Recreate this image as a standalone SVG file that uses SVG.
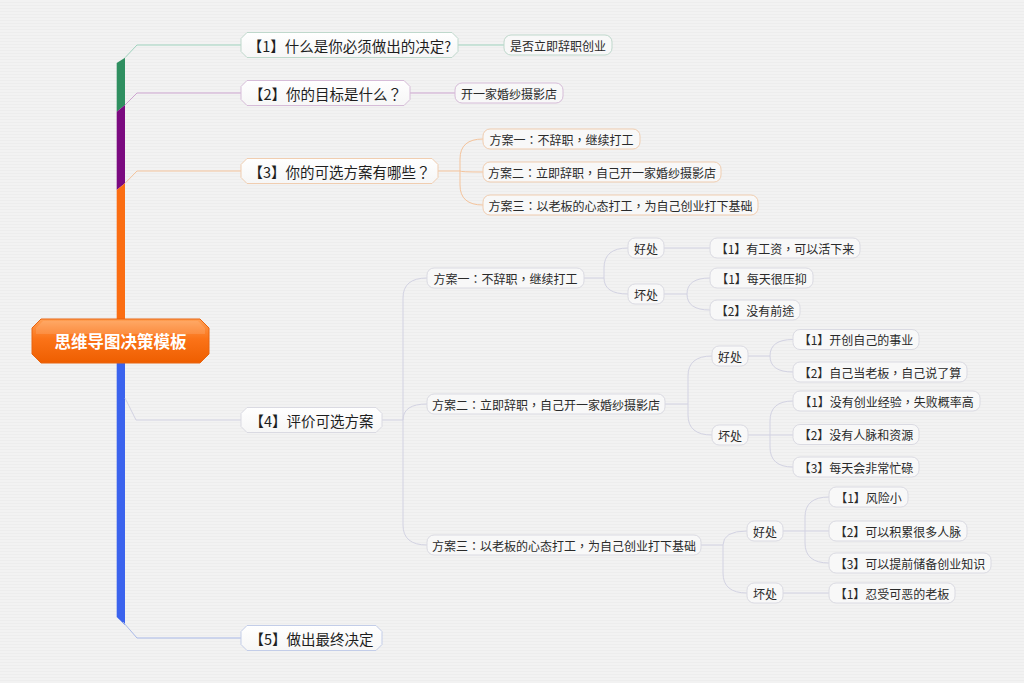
<svg xmlns="http://www.w3.org/2000/svg" width="1024" height="683" viewBox="0 0 1024 683">
<defs>
<pattern id="bg" width="8" height="3" patternUnits="userSpaceOnUse">
<rect width="8" height="3" fill="#f2f2f2"/>
<rect y="2" width="8" height="1" fill="#ededed"/>
</pattern>
<linearGradient id="rootg" x1="0" y1="0" x2="0" y2="1">
<stop offset="0" stop-color="#ffa055"/>
<stop offset="0.45" stop-color="#fb7318"/>
<stop offset="1" stop-color="#ee5e00"/>
</linearGradient>
<linearGradient id="maing" x1="0" y1="0" x2="0" y2="1">
<stop offset="0" stop-color="#ffffff"/>
<stop offset="1" stop-color="#f6f6f6"/>
</linearGradient>
</defs>
<style>
text{font-family:"Noto Sans CJK TC","Noto Sans CJK SC","Noto Sans",sans-serif;dominant-baseline:central;text-anchor:middle}
.main text{font-size:14.5px;fill:#1e1e1e}
.sub text{font-size:12px;fill:#2a2a2a}
.mbox{fill:url(#maing);stroke-width:1}
.sbox{fill:#f8f8f8;stroke-width:1}
.c path{fill:none;stroke-width:1}
.k1{stroke:#9fd3be}.k2{stroke:#cda5d0}.k3{stroke:#f4c39b}.k4{stroke:#d2d2e2}.k5{stroke:#a9b9e8}
.b1{stroke:#bfd8cc}.b2{stroke:#d6bcd8}.b3{stroke:#f0cdb0}.b4{stroke:#dadae2}.b5{stroke:#c3cde8}
</style>
<rect width="1024" height="683" fill="url(#bg)"/>

<g id="spine">
<polygon points="116.7,63 125,57.7 125,105 116.7,111.7" fill="#2f8f60"/>
<polygon points="116.7,111.7 125,105 125,183.3 116.7,190" fill="#7b0a80"/>
<polygon points="116.7,190 125,183.3 125,330 116.7,330" fill="#fb6d12"/>
<polygon points="116.7,355 125,355 125,625 116.7,617" fill="#3b63ee"/>
</g>

<g id="connectors" class="c">
<path class="k1" d="M125,57.7 L137,45 H241"/>
<path class="k2" d="M125,105 L137,93 H241"/>
<path class="k3" d="M125,183.3 L137,171 H241"/>
<path class="k4" d="M125,398 L136,420 H241"/>
<path class="k5" d="M123,622 L137,638 H241"/>
<path class="k1" d="M458,45 H504"/>
<path class="k2" d="M410,93 H455"/>
<path class="k3" d="M438,171 H460 M460,171 V159 Q460,139 483,139 M460,171 Q460,172 483,172 M460,171 V185 Q460,205 483,205"/>
<path class="k4" d="M382,420 H403 M403,420 V298 Q403,278 427,278 M403,420 Q403,404 427,404 M403,420 V525 Q403,545 427,545"/>
<path class="k4" d="M584,278 H604 M604,278 V268 Q604,248 628,248 M604,278 Q604,294 628,294"/>
<path class="k4" d="M664,248 H710"/>
<path class="k4" d="M664,294 H687 M687,294 Q687,278 710,278 M687,294 Q687,310 710,310"/>
<path class="k4" d="M665,404 H688 M688,404 V376 Q688,356 712,356 M688,404 V415 Q688,435 712,435"/>
<path class="k4" d="M748,356 H770 M770,356 Q770,339.5 793,339.5 M770,356 Q770,372 793,372"/>
<path class="k4" d="M748,435 H770 M770,435 V421 Q770,401 793,401 M770,435 H793 M770,435 V447 Q770,467 793,467"/>
<path class="k4" d="M701,545 H723 M723,545 Q723,531 747,531 M723,545 V573 Q723,593 747,593"/>
<path class="k4" d="M783,531 H805 M805,531 V517 Q805,497 829,497 M805,531 H829 M805,531 V543 Q805,563 829,563"/>
<path class="k4" d="M783,593 H829"/>
</g>

<g id="root">
<path d="M41,319 H200 L209,328 V354 L200,363 H41 L32,354 V328 Z" fill="url(#rootg)" stroke="#e86410" stroke-width="1"/>
<path d="M43,321 H198 L205,328 V334 H36 V328 Z" fill="#ffffff" opacity="0.12"/>
<text x="120.5" y="341" style="font-size:16.5px;font-weight:bold;fill:#ffffff">思维导图决策模板</text>
</g>

<g id="n1" class="main"><path class="mbox b1" d="M247,32.5 H452 L458,38.5 V51.5 L452,57.5 H247 L241,51.5 V38.5 Z"/><text x="349.5" y="45">【1】什么是你必须做出的决定?</text></g>
<g id="n2" class="main"><path class="mbox b2" d="M247,80.5 H404 L410,86.5 V99.5 L404,105.5 H247 L241,99.5 V86.5 Z"/><text x="325.5" y="93">【2】你的目标是什么？</text></g>
<g id="n3" class="main"><path class="mbox b3" d="M247,158.5 H432 L438,164.5 V177.5 L432,183.5 H247 L241,177.5 V164.5 Z"/><text x="339.5" y="171">【3】你的可选方案有哪些？</text></g>
<g id="n4" class="main"><path class="mbox b4" d="M247,407.5 H376 L382,413.5 V426.5 L376,432.5 H247 L241,426.5 V413.5 Z"/><text x="311.5" y="420">【4】评价可选方案</text></g>
<g id="n5" class="main"><path class="mbox b5" d="M247,625.5 H376 L382,631.5 V644.5 L376,650.5 H247 L241,644.5 V631.5 Z"/><text x="311.5" y="638">【5】做出最终决定</text></g>

<g id="c1" class="sub"><rect class="sbox b1" x="504" y="35" width="108" height="20" rx="7"/><text x="558" y="45">是否立即辞职创业</text></g>
<g id="c2" class="sub"><rect class="sbox b2" x="455" y="83" width="108" height="20" rx="7"/><text x="509" y="93">开一家婚纱摄影店</text></g>

<g id="o1" class="sub"><rect class="sbox b3" x="483" y="129" width="157" height="20" rx="7"/><text x="561.5" y="139">方案一：不辞职，继续打工</text></g>
<g id="o2" class="sub"><rect class="sbox b3" x="483" y="162" width="238" height="20" rx="7"/><text x="602" y="172">方案二：立即辞职，自己开一家婚纱摄影店</text></g>
<g id="o3" class="sub"><rect class="sbox b3" x="483" y="195" width="275" height="20" rx="7"/><text x="620.5" y="205">方案三：以老板的心态打工，为自己创业打下基础</text></g>

<g id="e1" class="sub"><rect class="sbox b4" x="427" y="268" width="157" height="20" rx="7"/><text x="505.5" y="278">方案一：不辞职，继续打工</text></g>
<g id="e2" class="sub"><rect class="sbox b4" x="427" y="394" width="238" height="20" rx="7"/><text x="546" y="404">方案二：立即辞职，自己开一家婚纱摄影店</text></g>
<g id="e3" class="sub"><rect class="sbox b4" x="427" y="535" width="274" height="20" rx="7"/><text x="564" y="545">方案三：以老板的心态打工，为自己创业打下基础</text></g>

<g id="e1g" class="sub"><rect class="sbox b4" x="628" y="238" width="36" height="20" rx="7"/><text x="646" y="248">好处</text></g>
<g id="e1b" class="sub"><rect class="sbox b4" x="628" y="284" width="36" height="20" rx="7"/><text x="646" y="294">坏处</text></g>
<g id="e1g1" class="sub"><rect class="sbox b4" x="710" y="238" width="150" height="20" rx="7"/><text x="785" y="248">【1】有工资，可以活下来</text></g>
<g id="e1b1" class="sub"><rect class="sbox b4" x="710" y="268" width="103" height="20" rx="7"/><text x="761.5" y="278">【1】每天很压抑</text></g>
<g id="e1b2" class="sub"><rect class="sbox b4" x="710" y="300" width="90" height="20" rx="7"/><text x="755" y="310">【2】没有前途</text></g>

<g id="e2g" class="sub"><rect class="sbox b4" x="712" y="346" width="36" height="20" rx="7"/><text x="730" y="356">好处</text></g>
<g id="e2b" class="sub"><rect class="sbox b4" x="712" y="425" width="36" height="20" rx="7"/><text x="730" y="435">坏处</text></g>
<g id="e2g1" class="sub"><rect class="sbox b4" x="793" y="329.5" width="126" height="20" rx="7"/><text x="856" y="339.5">【1】开创自己的事业</text></g>
<g id="e2g2" class="sub"><rect class="sbox b4" x="793" y="362" width="174" height="20" rx="7"/><text x="880" y="372">【2】自己当老板，自己说了算</text></g>
<g id="e2b1" class="sub"><rect class="sbox b4" x="793" y="391" width="187" height="20" rx="7"/><text x="886.5" y="401">【1】没有创业经验，失败概率高</text></g>
<g id="e2b2" class="sub"><rect class="sbox b4" x="793" y="424.5" width="126" height="20" rx="7"/><text x="856" y="434.5">【2】没有人脉和资源</text></g>
<g id="e2b3" class="sub"><rect class="sbox b4" x="793" y="457" width="126" height="20" rx="7"/><text x="856" y="467">【3】每天会非常忙碌</text></g>

<g id="e3g" class="sub"><rect class="sbox b4" x="747" y="521" width="36" height="20" rx="7"/><text x="765" y="531">好处</text></g>
<g id="e3b" class="sub"><rect class="sbox b4" x="747" y="583" width="36" height="20" rx="7"/><text x="765" y="593">坏处</text></g>
<g id="e3g1" class="sub"><rect class="sbox b4" x="829" y="487" width="79" height="20" rx="7"/><text x="868.5" y="497">【1】风险小</text></g>
<g id="e3g2" class="sub"><rect class="sbox b4" x="829" y="521" width="138" height="20" rx="7"/><text x="898" y="531">【2】可以积累很多人脉</text></g>
<g id="e3g3" class="sub"><rect class="sbox b4" x="829" y="553" width="162" height="20" rx="7"/><text x="910" y="563">【3】可以提前储备创业知识</text></g>
<g id="e3b1" class="sub"><rect class="sbox b4" x="829" y="583" width="126" height="20" rx="7"/><text x="892" y="593">【1】忍受可恶的老板</text></g>
</svg>
